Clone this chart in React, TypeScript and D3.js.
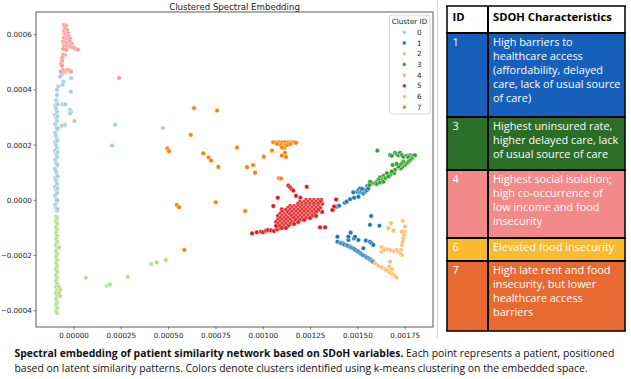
import React from 'react';
import * as d3 from 'd3';

// All embedding values are in units of 1e-5
const clusterIds = ['0', '1', '2', '3', '4', '5', '6', '7'];
const clusterColors = ['#a6cee3', '#1f78b4', '#b2df8a', '#33a02c', '#fb9a99', '#e31a1c', '#fdbf6f', '#ff7f00'];

const cluster0: [number, number][] = [
  [-6.5, 45.6], [-7.4, 44.8], [-5.7, 43.0], [-1.6, 44.2], [-6.0, 41.8], [-8.3, 41.2], [-9.0, 40.0], [-1.7, 39.3],
  [-9.0, 38.1], [-9.1, 35.5], [-8.3, 34.8], [-6.0, 34.8], [-4.6, 34.8], [-2.1, 32.7], [-1.6, 31.9], [-2.1, 31.5],
  [0.2, 28.7], [-4.8, 27.3], [-6.5, 27.0], [-8.3, 26.1],
  [-9.5, 36.3], [-9.0, 35.2], [-10.0, 34.2], [-9.5, 33.1], [-9.0, 32.0], [-10.0, 30.9], [-9.5, 29.8], [-9.0, 28.7],
  [-10.0, 27.6], [-9.5, 26.5], [-9.0, 25.5], [-10.0, 24.4], [-9.5, 23.3], [-9.0, 22.2], [-10.0, 21.1], [-9.5, 20.0],
  [-9.0, 18.9], [-10.0, 17.9], [-9.5, 16.8], [-9.0, 15.7], [-10.0, 14.6], [-9.5, 13.5], [-9.0, 12.4], [-10.0, 11.3],
  [-9.5, 10.2], [-9.0, 9.2], [-10.0, 8.1], [-9.5, 7.0], [-9.0, 5.9], [-10.0, 4.8], [-9.5, 3.7], [-9.0, 2.6],
  [-10.0, 1.6], [-9.5, 0.5], [-9.0, -0.6], [-10.0, -1.7], [-9.5, -2.8], [-9.0, -3.9],
  [-8.8, 34.8], [-8.8, 30.4], [-8.8, 26.0], [-8.8, 21.6], [-8.8, 17.4], [-8.8, 12.9], [-8.8, 8.6], [-8.8, 4.3],
  [-8.8, 0.0], [-8.8, -3.2],
  [21.7, 27.4], [20.1, 19.8], [46.9, 26.2],
];

const cluster1: [number, number][] = [
  [137.0, -3.5], [138.8, -2.3], [140.1, -2.0], [143.1, -0.9], [144.1, -0.5], [145.9, 0.4], [148.0, 0.9], [150.3, 1.3],
  [147.6, 2.9], [149.7, 3.1], [150.3, 3.7], [151.2, 4.3], [151.2, 2.9], [152.0, 3.1], [152.9, 3.7], [152.9, 2.5],
  [153.8, 3.1], [153.8, 3.9], [154.7, 3.6], [155.0, 5.2], [155.5, 4.3], [152.2, 4.1],
  [139.2, -13.2], [139.2, -15.0], [140.6, -15.4], [141.4, -15.6], [142.3, -15.8], [143.0, -16.1], [144.1, -16.3],
  [144.8, -16.6], [145.9, -16.8], [146.4, -17.1], [147.3, -17.4], [148.0, -17.6], [148.7, -18.0], [149.6, -18.4],
  [150.3, -18.7], [151.2, -19.1], [151.8, -19.5], [152.5, -19.8], [153.3, -20.1], [154.1, -20.4], [154.7, -20.7],
  [155.4, -20.9], [156.1, -21.3], [156.7, -21.6], [157.3, -21.9], [157.8, -22.2], [158.2, -22.4],
  [145.0, -14.4], [146.2, -11.7], [148.0, -13.8], [150.3, -14.4], [152.9, -17.4], [154.2, -14.6], [156.4, -15.0],
  [157.3, -15.6], [158.2, -16.2], [156.4, -8.9], [157.0, -5.7], [161.4, -9.2], [145.0, -13.2], [148.5, -13.2],
];

const cluster2: [number, number][] = [
  [-9.5, -5.9], [-9.0, -6.4], [-9.5, -7.5], [-9.0, -8.6], [-9.5, -9.7], [-9.0, -10.7], [-9.5, -11.8], [-9.0, -12.9],
  [-9.5, -14.0], [-9.0, -15.1], [-9.5, -16.2], [-9.0, -17.3], [-9.5, -18.4], [-9.0, -19.5], [-9.5, -20.5], [-9.0, -21.6],
  [-9.5, -22.7], [-9.0, -23.8], [-9.5, -24.9], [-9.0, -26.0], [-9.5, -27.1], [-9.0, -28.2], [-9.5, -29.2], [-9.0, -30.3],
  [-9.5, -31.4], [-9.0, -32.5], [-9.5, -33.6], [-9.0, -34.7], [-9.5, -35.8], [-9.0, -36.9], [-9.5, -37.9], [-9.0, -39.0],
  [-9.5, -40.1], [-9.0, -40.8],
  [-7.9, -17.0], [-7.9, -31.4], [-7.4, -32.5], [-7.9, -33.6], [-7.4, -34.7],
  [6.3, -28.0], [17.4, -31.0], [18.5, -30.7], [19.0, -30.5], [28.4, -27.7], [40.9, -23.1], [43.7, -22.5], [48.5, -21.6],
];

const cluster3: [number, number][] = [
  [160.3, 18.0], [167.0, 16.4], [167.9, 16.1], [169.6, 17.2], [170.5, 16.8], [171.4, 16.3], [172.3, 17.2], [173.2, 16.4],
  [174.0, 15.8], [175.8, 16.1], [177.6, 16.3], [179.3, 16.2], [180.2, 16.3], [176.7, 15.6], [178.5, 15.2], [177.6, 14.6],
  [176.7, 14.0], [175.8, 13.4], [174.9, 12.8], [173.7, 12.2], [172.7, 11.6], [174.0, 14.0], [173.2, 13.4], [172.3, 12.8],
  [171.4, 12.2], [168.4, 12.8], [170.5, 13.2], [169.6, 11.0], [169.1, 9.8], [167.0, 9.2], [165.3, 9.8], [163.5, 8.8],
  [161.7, 8.3], [164.4, 8.0], [162.6, 7.4], [160.8, 7.4], [160.0, 6.7], [159.1, 6.2], [157.3, 6.2], [156.4, 6.7],
  [156.1, 5.5], [160.0, 5.9], [161.7, 6.4], [163.5, 6.7], [166.1, 8.6], [167.9, 10.4],
];

const cluster4: [number, number][] = [
  [-5.3, 63.5], [-4.2, 63.2], [-4.8, 62.1], [-3.7, 61.7], [-5.3, 61.0], [-4.2, 60.6], [-3.2, 60.6], [-4.8, 59.9],
  [-3.7, 59.5], [-2.6, 59.2], [-5.3, 58.8], [-4.2, 58.4], [-3.2, 58.1], [-2.1, 58.4], [-5.8, 57.4], [-4.8, 57.0],
  [-3.7, 57.0], [-2.1, 57.4], [-1.1, 56.6], [-5.3, 55.9], [-4.2, 55.9], [-3.2, 55.5], [-2.1, 55.9], [-1.1, 55.5],
  [0.0, 55.2], [1.1, 54.8], [2.1, 54.5], [-5.8, 54.8], [-4.2, 54.5], [-4.8, 52.6], [-5.8, 52.6], [-6.3, 51.6],
  [-6.3, 50.5], [-6.9, 49.4], [-6.3, 48.7], [-5.8, 47.3], [-6.9, 46.6], [-4.8, 46.6], [-3.7, 46.9], [-3.2, 47.3],
  [-2.1, 46.9], [-1.6, 46.6], [23.8, 44.3],
];

const cluster5: [number, number][] = [
  [94.1, -12.0], [96.6, -11.6], [98.8, -11.4], [99.9, -11.6], [101.5, -11.0], [102.5, -10.8], [104.1, -10.9],
  [105.7, -11.1], [107.3, -10.5], [108.9, -10.1],
  [113.3, 5.3], [114.2, 4.7], [115.1, 4.0], [115.9, 3.5], [123.0, 4.9], [117.3, 1.6], [119.6, 0.9], [107.7, 0.9],
  [105.3, -2.1], [109.8, -3.3], [108.3, -5.9], [130.0, -9.8], [132.7, -9.8], [137.4, -2.3], [136.5, -3.5], [138.5, 0.3],
  [131.1, -1.3], [131.1, -4.2],
  [122.6, 0.1], [124.7, 0.1], [126.8, 0.1], [129.0, 0.1], [130.6, 0.1],
  [119.4, -0.6], [121.6, -0.6], [123.7, -0.6], [125.8, -0.6], [127.9, -0.6], [130.0, -0.6],
  [118.4, -1.3], [120.5, -1.3], [122.6, -1.3], [124.7, -1.3], [126.8, -1.3], [129.0, -1.3],
  [114.2, -2.1], [116.3, -2.1], [118.4, -2.1], [120.5, -2.1], [122.6, -2.1], [124.7, -2.1], [126.8, -2.1], [129.0, -2.1],
  [113.1, -2.8], [115.2, -2.8], [117.3, -2.8], [119.4, -2.8], [121.6, -2.8], [123.7, -2.8], [125.8, -2.8], [127.9, -2.8], [130.0, -2.8],
  [112.0, -3.5], [114.2, -3.5], [116.3, -3.5], [118.4, -3.5], [120.5, -3.5], [122.6, -3.5], [124.7, -3.5], [126.8, -3.5], [129.0, -3.5],
  [109.9, -4.2], [113.1, -4.2], [115.2, -4.2], [117.3, -4.2], [119.4, -4.2], [121.6, -4.2], [123.7, -4.2], [125.8, -4.2], [127.9, -4.2],
  [108.9, -5.0], [111.0, -5.0], [114.2, -5.0], [116.3, -5.0], [118.4, -5.0], [120.5, -5.0], [122.6, -5.0], [124.7, -5.0], [126.8, -5.0],
  [107.8, -5.7], [109.9, -5.7], [112.0, -5.7], [115.2, -5.7], [117.3, -5.7], [119.4, -5.7], [121.6, -5.7], [123.7, -5.7], [125.8, -5.7], [127.9, -5.7],
  [108.9, -6.4], [111.0, -6.4], [113.1, -6.4], [116.3, -6.4], [118.4, -6.4], [120.5, -6.4], [122.6, -6.4], [124.7, -6.4],
  [107.8, -7.1], [109.9, -7.1], [112.0, -7.1], [114.2, -7.1], [117.3, -7.1], [119.4, -7.1], [121.6, -7.1],
  [106.8, -7.9], [108.9, -7.9], [111.0, -7.9], [113.1, -7.9], [115.2, -7.9], [118.4, -7.9],
  [107.8, -8.6], [109.9, -8.6], [112.0, -8.6], [114.2, -8.6], [116.3, -8.6],
  [106.8, -9.3], [108.9, -9.3], [111.0, -9.3], [113.1, -9.3],
  [109.9, -10.0], [112.0, -10.0],
];

const cluster6: [number, number][] = [
  [167.5, -8.3], [166.1, -10.1], [168.8, -11.0], [173.7, -7.4], [174.6, -11.4], [174.4, -12.6], [174.0, -13.8],
  [173.7, -15.0], [173.2, -16.2], [172.8, -18.0], [173.2, -19.8], [172.3, -19.2], [171.4, -18.6], [170.5, -18.0],
  [168.8, -18.4], [167.0, -18.0], [165.3, -17.8], [163.5, -17.4], [162.6, -17.0], [162.6, -18.6], [167.0, -22.2],
  [166.6, -24.1], [167.9, -25.0], [159.1, -22.8], [160.8, -23.7], [162.6, -24.3], [164.4, -24.9], [165.6, -25.5],
  [167.0, -26.2], [168.4, -26.8], [169.6, -27.4], [170.5, -28.0], [163.8, -18.0], [174.9, -9.5], [173.2, -11.4],
];

const cluster7: [number, number][] = [
  [63.4, 33.4], [75.6, 32.5], [61.7, 23.7], [49.3, 18.8], [50.2, 17.8], [68.3, 17.0], [71.1, 15.5], [72.4, 14.4],
  [76.3, 12.1], [86.1, 19.1], [91.4, 12.0], [94.6, 12.8], [95.7, 10.0], [100.3, 15.8], [104.6, 18.0], [109.8, 16.2],
  [111.5, 17.2], [112.0, 15.7], [108.3, 8.0], [109.4, 7.9], [74.9, -0.7], [90.4, -3.9], [54.3, -1.7], [55.5, -2.5],
  [58.3, -18.0],
  [105.2, 21.0], [106.8, 21.0], [108.3, 21.0], [109.9, 21.0], [111.5, 21.0], [113.1, 21.0], [114.7, 21.0], [116.3, 21.0],
  [117.3, 20.8], [109.4, 20.0], [110.5, 19.5], [111.5, 19.7], [112.6, 20.0], [114.2, 20.4], [111.0, 18.9], [109.9, 19.1],
  [107.3, 20.4],
];

const clusters = [cluster0, cluster1, cluster2, cluster3, cluster4, cluster5, cluster6, cluster7];

const xTicks = [0, 25, 50, 75, 100, 125, 150, 175];
const yTicks = [-40, -20, 0, 20, 40, 60];
const chartTitle = 'Clustered Spectral Embedding';
const legendTitle = 'Cluster ID';

const tableHeader = ['ID', 'SDOH Characteristics'];
const tableIds = ['1', '3', '4', '6', '7'];
const tableLines = [
  ['High barriers to', 'healthcare access', '(affordability, delayed', 'care, lack of usual source', 'of care)'],
  ['Highest uninsured rate,', 'higher delayed care, lack', 'of usual source of care'],
  ['Highest social isolation;', 'high co-occurrence of', 'low income and food', 'insecurity'],
  ['Elevated food insecurity'],
  ['High late rent and food', 'insecurity, but lower', 'healthcare access', 'barriers'],
];
const tableColors = ['#1660bb', '#2b6e27', '#f38a8a', '#fbbb2c', '#e76a32'];
const tableRowBounds = [6, 33, 117, 170, 238, 261, 331];

const captionBold = 'Spectral embedding of patient similarity network based on SDoH variables.';
const captionRest1 = ' Each point represents a patient, positioned';
const captionLine2 = 'based on latent similarity patterns. Colors denote clusters identified using k-means clustering on the embedded space.';

const W = 631;
const H = 379;
const plot = { left: 36, right: 433, top: 12, bottom: 327 };

export default function App() {
  const x = d3.scaleLinear().domain([-20.1, 189.7]).range([plot.left, plot.right]);
  const y = d3.scaleLinear().domain([-45.9, 68.2]).range([plot.bottom, plot.top]);
  const fmtX = (v: number) => (v * 1e-5).toFixed(5);
  const fmtY = (v: number) => {
    const s = Math.abs(v * 1e-5).toFixed(4);
    return v < 0 ? '\u2212' + s : s;
  };
  const tickFont = 'DejaVu Sans, sans-serif';
  const tabFont = 'Open Sans, sans-serif';
  const tl = tableRowBounds;
  const tabL = 447, tabM = 488, tabR = 625;

  return (
    <svg width={W} height={H} style={{ position: 'absolute', left: 0, top: 0, background: '#fff' }}>
      <rect x={0} y={0} width={W} height={H} fill="#fff" />
      {/* separator */}
      <line x1={437.5} y1={0} x2={437.5} y2={338} stroke="#d8d8d8" strokeWidth={1} />
      {/* title */}
      <text x={(plot.left + plot.right) / 2} y={9.5} textAnchor="middle" fontFamily={tickFont} fontSize={8.6} fill="#222">
        {chartTitle}
      </text>
      {/* points */}
      <g>
        {clusters.map((pts, ci) =>
          pts.map((p, i) => (
            <circle key={ci + '-' + i} cx={x(p[0])} cy={y(p[1])} r={2.3} fill={clusterColors[ci]} stroke="#fff" strokeWidth={0.45} />
          ))
        )}
      </g>
      {/* frame */}
      <rect x={plot.left} y={plot.top} width={plot.right - plot.left} height={plot.bottom - plot.top} fill="none" stroke="#333" strokeWidth={0.8} />
      {/* x ticks */}
      {xTicks.map((t) => (
        <g key={'xt' + t}>
          <line x1={x(t)} x2={x(t)} y1={plot.bottom} y2={plot.bottom + 2.5} stroke="#333" strokeWidth={0.6} />
          <text x={x(t)} y={337.8} textAnchor="middle" fontFamily={tickFont} fontSize={7.2} fill="#222">{fmtX(t)}</text>
        </g>
      ))}
      {/* y ticks */}
      {yTicks.map((t) => (
        <g key={'yt' + t}>
          <line x1={plot.left - 2.5} x2={plot.left} y1={y(t)} y2={y(t)} stroke="#333" strokeWidth={0.6} />
          <text x={31.8} y={y(t) + 2.6} textAnchor="end" fontFamily={tickFont} fontSize={7.2} fill="#222">{fmtY(t)}</text>
        </g>
      ))}
      {/* legend */}
      <g>
        <rect x={389.5} y={15} width={40.5} height={99} rx={2} fill="#fff" fillOpacity={0.8} stroke="#ccc" strokeWidth={0.8} />
        <text x={409.5} y={23.8} textAnchor="middle" fontFamily={tickFont} fontSize={7.2} fill="#222">{legendTitle}</text>
        {clusterIds.map((id, i) => (
          <g key={'lg' + id}>
            <circle cx={404.3} cy={32.3 + i * 10.7} r={1.9} fill={clusterColors[i]} stroke="#fff" strokeWidth={0.4} />
            <text x={417} y={32.3 + i * 10.7 + 2.6} fontFamily={tickFont} fontSize={7.2} fill="#222">{id}</text>
          </g>
        ))}
      </g>
      {/* table */}
      <g>
        <rect x={tabL} y={tl[0]} width={tabR - tabL} height={tl[1] - tl[0]} fill="#fff" />
        {tableIds.map((id, i) => (
          <rect key={'tr' + id} x={tabL} y={tl[i + 1]} width={tabR - tabL} height={tl[i + 2] - tl[i + 1]} fill={tableColors[i]} />
        ))}
        <text x={452.5} y={20.8} fontFamily={tabFont} fontWeight={700} fontSize={11.2} fill="#000">{tableHeader[0]}</text>
        <text x={493} y={20.8} fontFamily={tabFont} fontWeight={700} fontSize={11.2} fill="#000">{tableHeader[1]}</text>
        {tableIds.map((id, i) => (
          <g key={'tt' + id}>
            <text x={452.5} y={tl[i + 1] + 13.3} fontFamily={tabFont} fontWeight={500} fontSize={10.9} fill="#fff">{id}</text>
            {tableLines[i].map((ln, j) => (
              <text key={j} x={493} y={tl[i + 1] + 13.3 + j * 13.8} fontFamily={tabFont} fontWeight={500} fontSize={10.9} fill="#fff">{ln}</text>
            ))}
          </g>
        ))}
        {tl.map((b, i) => (
          <line key={'hl' + i} x1={tabL - 1} x2={tabR + 1} y1={b} y2={b} stroke="#000" strokeWidth={i === 0 || i === tl.length - 1 ? 1.5 : 2} />
        ))}
        <line x1={tabL} x2={tabL} y1={tl[0]} y2={tl[tl.length - 1]} stroke="#000" strokeWidth={1.5} />
        <line x1={tabM} x2={tabM} y1={tl[0]} y2={tl[tl.length - 1]} stroke="#000" strokeWidth={2} />
        <line x1={tabR} x2={tabR} y1={tl[0]} y2={tl[tl.length - 1]} stroke="#000" strokeWidth={1.5} />
      </g>
      {/* caption */}
      <text x={14.5} y={357} fontFamily={tabFont} fontSize={10.4} fill="#111">
        <tspan fontWeight={700}>{captionBold}</tspan>
        <tspan>{captionRest1}</tspan>
      </text>
      <text x={14.5} y={371.5} fontFamily={tabFont} fontSize={10.4} fill="#111">{captionLine2}</text>
    </svg>
  );
}
